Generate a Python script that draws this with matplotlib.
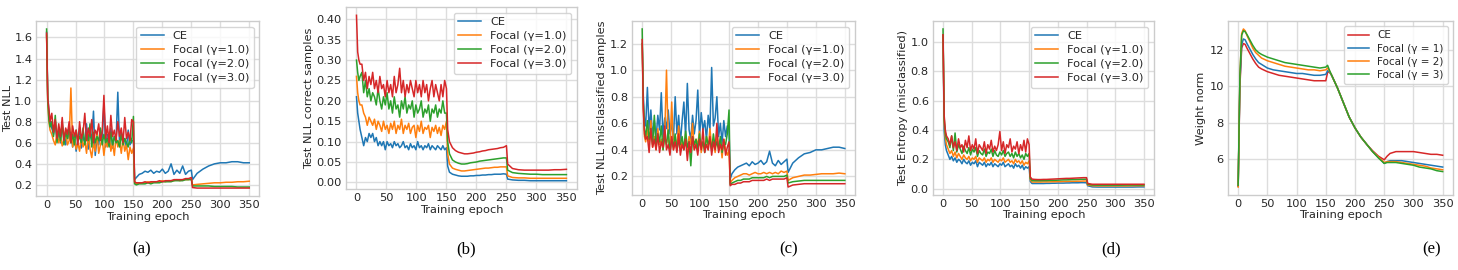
import matplotlib.pyplot as plt
from matplotlib.ticker import FormatStrFormatter

# epochs sampled for panels (a)-(d)
epochs = [0, 2, 4, 6] + list(range(9, 150, 3)) + [150, 152] + list(range(155, 250, 5)) + [250, 252] + list(range(260, 351, 10))
# epochs sampled for panel (e)
epochs_e = [0, 3, 6, 9, 12, 15, 20, 25, 30, 35, 40, 50, 60, 70, 80, 90, 100, 110, 120, 130,
            140, 150, 153, 156, 160, 170, 180, 190, 200, 210, 220, 230, 240, 250, 255, 260,
            270, 280, 290, 300, 310, 320, 330, 340, 350]

labels = ['CE', 'Focal (γ=1.0)', 'Focal (γ=2.0)', 'Focal (γ=3.0)']
labels_e = ['CE', 'Focal (γ = 1)', 'Focal (γ = 2)', 'Focal (γ = 3)']

# (a) Test NLL
nll_ce = ([1.65, 1.05, 0.90, 0.82]
          + [0.74, 0.68, 0.80, 0.62, 0.70, 0.60, 0.76, 0.66, 0.58, 0.72, 0.64, 0.70, 0.56, 0.68, 0.52, 0.62,
             0.74, 0.55, 0.66, 0.60, 0.78, 0.54, 0.70, 0.62, 0.90, 0.48, 0.64, 0.58, 0.72, 0.62, 0.97, 0.56,
             0.68, 0.60, 0.74, 0.55, 0.66, 0.62, 1.08, 0.58, 0.70, 0.60, 0.64, 0.55, 0.72, 0.58, 0.62]
          + [0.62, 0.25]
          + [0.27, 0.30, 0.31, 0.33, 0.32, 0.34, 0.31, 0.33, 0.32, 0.35, 0.31, 0.33, 0.40, 0.30, 0.34, 0.31,
             0.38, 0.30, 0.33]
          + [0.34, 0.25]
          + [0.31, 0.35, 0.38, 0.40, 0.41, 0.41, 0.42, 0.42, 0.41, 0.41])
nll_f1 = ([1.62, 1.00, 0.80, 0.72]
          + [0.68, 0.62, 0.58, 0.70, 0.60, 0.66, 0.57, 0.64, 0.72, 0.58, 0.62, 1.12, 0.56, 0.64, 0.54, 0.60,
             0.52, 0.66, 0.56, 0.62, 0.50, 0.68, 0.54, 0.46, 0.60, 0.52, 0.70, 0.50, 0.58, 0.64, 0.48, 0.62,
             0.56, 0.70, 0.52, 0.60, 0.48, 0.66, 0.56, 0.62, 0.50, 0.64, 0.52, 0.58, 0.44, 0.56, 0.50]
          + [0.55, 0.22]
          + [0.21, 0.22, 0.22, 0.22, 0.23, 0.22, 0.23, 0.23, 0.23, 0.24, 0.23, 0.24, 0.24, 0.24, 0.25, 0.24,
             0.25, 0.25, 0.25]
          + [0.26, 0.20]
          + [0.205, 0.21, 0.215, 0.22, 0.22, 0.225, 0.225, 0.23, 0.23, 0.235])
nll_f2 = ([1.68, 1.00, 0.82, 0.75]
          + [0.80, 0.66, 0.86, 0.60, 0.74, 0.62, 0.80, 0.58, 0.70, 0.64, 0.76, 0.60, 0.68, 0.58, 0.72, 0.62,
             0.66, 0.60, 0.74, 0.58, 0.68, 0.62, 0.78, 0.56, 0.70, 0.60, 0.66, 0.62, 0.74, 0.58, 0.68, 0.60,
             0.64, 0.56, 0.70, 0.58, 0.66, 0.60, 0.62, 0.56, 0.68, 0.58, 0.64, 0.60, 0.56, 0.66, 0.60]
          + [0.85, 0.21]
          + [0.20, 0.21, 0.21, 0.21, 0.22, 0.21, 0.22, 0.22, 0.22, 0.23, 0.23, 0.23, 0.23, 0.24, 0.24, 0.24,
             0.24, 0.25, 0.25]
          + [0.25, 0.19]
          + [0.19, 0.19, 0.19, 0.185, 0.185, 0.185, 0.185, 0.18, 0.18, 0.18])
nll_f3 = ([1.64, 1.02, 0.92, 0.80]
          + [0.88, 0.70, 0.82, 0.64, 0.78, 0.66, 0.84, 0.62, 0.74, 0.68, 0.80, 0.60, 0.76, 0.66, 0.72, 0.58,
             0.80, 0.64, 0.70, 0.88, 0.62, 0.74, 0.66, 0.82, 0.60, 0.72, 0.68, 0.78, 0.62, 0.70, 1.05, 0.64,
             0.76, 0.60, 0.86, 0.66, 0.72, 0.62, 0.80, 0.66, 0.74, 0.60, 0.84, 0.64, 0.70, 0.62, 0.82]
          + [0.80, 0.23]
          + [0.22, 0.22, 0.22, 0.23, 0.22, 0.23, 0.23, 0.23, 0.24, 0.23, 0.24, 0.24, 0.24, 0.25, 0.25, 0.25,
             0.25, 0.26, 0.26]
          + [0.27, 0.175]
          + [0.17, 0.17, 0.17, 0.17, 0.17, 0.17, 0.17, 0.17, 0.17, 0.17])

# (b) Test NLL correct samples
cor_ce = ([0.21, 0.17, 0.15, 0.13]
          + [0.11, 0.09, 0.11, 0.10, 0.12, 0.11, 0.12, 0.10, 0.11, 0.09, 0.10, 0.09, 0.10, 0.08, 0.10, 0.09,
             0.095, 0.085, 0.10, 0.09, 0.095, 0.085, 0.09, 0.10, 0.085, 0.09, 0.08, 0.095, 0.085, 0.09, 0.08,
             0.10, 0.085, 0.09, 0.08, 0.09, 0.085, 0.095, 0.08, 0.09, 0.085, 0.08, 0.09, 0.085, 0.08, 0.09, 0.08]
          + [0.085, 0.04]
          + [0.025, 0.02, 0.018, 0.016, 0.015, 0.015, 0.015, 0.016, 0.016, 0.017, 0.017, 0.018, 0.018, 0.019,
             0.019, 0.02, 0.02, 0.02, 0.021]
          + [0.02, 0.008]
          + [0.006, 0.005, 0.005, 0.004, 0.004, 0.004, 0.004, 0.004, 0.004, 0.004])
cor_f1 = ([0.26, 0.22, 0.20, 0.19]
          + [0.19, 0.17, 0.16, 0.14, 0.16, 0.15, 0.14, 0.155, 0.13, 0.15, 0.14, 0.125, 0.15, 0.13, 0.14, 0.12,
             0.145, 0.13, 0.15, 0.12, 0.14, 0.13, 0.155, 0.12, 0.14, 0.13, 0.145, 0.12, 0.135, 0.14, 0.11, 0.14,
             0.125, 0.15, 0.12, 0.135, 0.13, 0.14, 0.11, 0.135, 0.125, 0.14, 0.12, 0.135, 0.115, 0.14, 0.13]
          + [0.15, 0.07]
          + [0.045, 0.035, 0.032, 0.03, 0.028, 0.028, 0.029, 0.03, 0.031, 0.032, 0.033, 0.034, 0.035, 0.035,
             0.036, 0.037, 0.037, 0.038, 0.038]
          + [0.038, 0.016]
          + [0.012, 0.011, 0.011, 0.01, 0.01, 0.01, 0.01, 0.01, 0.01, 0.01])
cor_f2 = ([0.30, 0.27, 0.25, 0.26]
          + [0.27, 0.22, 0.25, 0.21, 0.23, 0.20, 0.22, 0.21, 0.19, 0.23, 0.20, 0.18, 0.21, 0.19, 0.22, 0.18,
             0.20, 0.17, 0.21, 0.18, 0.19, 0.16, 0.20, 0.18, 0.21, 0.17, 0.19, 0.18, 0.20, 0.16, 0.19, 0.17,
             0.18, 0.20, 0.16, 0.18, 0.17, 0.19, 0.15, 0.18, 0.17, 0.19, 0.16, 0.18, 0.17, 0.20, 0.17]
          + [0.17, 0.10]
          + [0.07, 0.055, 0.05, 0.047, 0.045, 0.045, 0.046, 0.048, 0.049, 0.05, 0.052, 0.053, 0.054, 0.055,
             0.056, 0.057, 0.058, 0.059, 0.06]
          + [0.06, 0.03]
          + [0.024, 0.022, 0.021, 0.02, 0.02, 0.019, 0.019, 0.019, 0.019, 0.019])
cor_f3 = ([0.41, 0.32, 0.30, 0.29]
          + [0.29, 0.25, 0.27, 0.23, 0.26, 0.24, 0.27, 0.23, 0.25, 0.22, 0.26, 0.23, 0.24, 0.21, 0.25, 0.22,
             0.24, 0.21, 0.26, 0.22, 0.24, 0.28, 0.22, 0.25, 0.21, 0.24, 0.22, 0.25, 0.23, 0.21, 0.25, 0.22,
             0.24, 0.21, 0.25, 0.22, 0.24, 0.20, 0.23, 0.25, 0.21, 0.24, 0.22, 0.20, 0.24, 0.21, 0.25]
          + [0.23, 0.13]
          + [0.10, 0.085, 0.078, 0.074, 0.072, 0.07, 0.07, 0.071, 0.072, 0.074, 0.075, 0.077, 0.078, 0.08,
             0.081, 0.082, 0.083, 0.085, 0.086]
          + [0.09, 0.045]
          + [0.034, 0.031, 0.03, 0.03, 0.03, 0.03, 0.03, 0.031, 0.031, 0.032])

# (c) Test NLL misclassified samples
mis_ce = ([1.20, 0.80, 0.62, 0.58]
          + [0.87, 0.55, 0.70, 0.50, 0.62, 0.48, 0.66, 0.55, 0.83, 0.50, 0.64, 0.56, 0.70, 0.52, 0.60, 0.48,
             0.80, 0.52, 0.66, 0.45, 0.62, 0.76, 0.50, 0.90, 0.55, 0.48, 0.66, 0.52, 0.62, 0.85, 0.50, 0.68,
             0.55, 0.62, 0.48, 0.66, 0.55, 1.02, 0.58, 0.64, 0.80, 0.50, 0.60, 0.45, 0.62, 0.50, 0.58]
          + [0.55, 0.18]
          + [0.22, 0.25, 0.27, 0.28, 0.29, 0.30, 0.28, 0.31, 0.29, 0.30, 0.32, 0.29, 0.31, 0.39, 0.30, 0.28,
             0.32, 0.29, 0.31]
          + [0.33, 0.23]
          + [0.30, 0.34, 0.37, 0.38, 0.40, 0.40, 0.41, 0.42, 0.42, 0.41])
mis_f1 = ([1.20, 0.72, 0.50, 0.46]
          + [0.55, 0.45, 0.62, 0.42, 0.50, 0.40, 0.56, 0.44, 0.48, 0.40, 0.52, 1.00, 0.46, 0.42, 0.76, 0.40,
             0.48, 0.44, 0.58, 0.40, 0.46, 0.42, 0.52, 0.38, 0.50, 0.44, 0.60, 0.40, 0.48, 0.44, 0.54, 0.38,
             0.46, 0.42, 0.50, 0.40, 0.56, 0.42, 0.46, 0.38, 0.50, 0.42, 0.46, 0.34, 0.48, 0.40, 0.36]
          + [0.40, 0.15]
          + [0.17, 0.19, 0.20, 0.21, 0.22, 0.22, 0.21, 0.22, 0.23, 0.22, 0.22, 0.23, 0.22, 0.23, 0.22, 0.23,
             0.22, 0.24, 0.23]
          + [0.24, 0.17]
          + [0.19, 0.20, 0.21, 0.21, 0.215, 0.22, 0.22, 0.22, 0.225, 0.22])
mis_f2 = ([1.31, 0.75, 0.55, 0.50]
          + [0.62, 0.48, 0.56, 0.44, 0.66, 0.42, 0.52, 0.46, 0.58, 0.40, 0.50, 0.44, 0.55, 0.38, 0.48, 0.42,
             0.52, 0.40, 0.46, 0.44, 0.50, 0.40, 0.54, 0.42, 0.46, 0.28, 0.50, 0.44, 0.48, 0.40, 0.52, 0.42,
             0.46, 0.38, 0.50, 0.44, 0.48, 0.40, 0.52, 0.42, 0.46, 0.40, 0.50, 0.38, 0.46, 0.44, 0.52]
          + [0.70, 0.14]
          + [0.15, 0.16, 0.17, 0.17, 0.18, 0.18, 0.18, 0.19, 0.19, 0.19, 0.19, 0.19, 0.20, 0.19, 0.20, 0.20,
             0.20, 0.20, 0.20]
          + [0.21, 0.15]
          + [0.16, 0.165, 0.17, 0.17, 0.17, 0.17, 0.17, 0.17, 0.17, 0.17])
mis_f3 = ([1.23, 0.70, 0.52, 0.48]
          + [0.50, 0.38, 0.56, 0.42, 0.48, 0.40, 0.52, 0.38, 0.46, 0.42, 0.58, 0.40, 0.44, 0.36, 0.50, 0.40,
             0.46, 0.38, 0.52, 0.36, 0.44, 0.40, 0.48, 0.32, 0.46, 0.38, 0.50, 0.40, 0.44, 0.36, 0.48, 0.40,
             0.56, 0.38, 0.44, 0.40, 0.50, 0.36, 0.46, 0.40, 0.60, 0.38, 0.44, 0.40, 0.48, 0.36, 0.42]
          + [0.46, 0.13]
          + [0.14, 0.14, 0.15, 0.15, 0.16, 0.16, 0.16, 0.17, 0.17, 0.17, 0.17, 0.17, 0.18, 0.17, 0.18, 0.18,
             0.18, 0.18, 0.18]
          + [0.19, 0.12]
          + [0.135, 0.14, 0.145, 0.145, 0.145, 0.145, 0.145, 0.145, 0.145, 0.145])

# (d) Test entropy (misclassified)
ent_ce = ([1.05, 0.40, 0.30, 0.26]
          + [0.23, 0.20, 0.22, 0.19, 0.21, 0.18, 0.20, 0.19, 0.17, 0.20, 0.18, 0.17, 0.19, 0.16, 0.18, 0.17,
             0.19, 0.15, 0.18, 0.17, 0.16, 0.18, 0.15, 0.17, 0.16, 0.18, 0.15, 0.17, 0.16, 0.15, 0.17, 0.16,
             0.18, 0.15, 0.16, 0.17, 0.15, 0.16, 0.14, 0.17, 0.15, 0.16, 0.14, 0.16, 0.13, 0.15, 0.14]
          + [0.15, 0.05]
          + [0.035, 0.035, 0.035, 0.035, 0.035, 0.036, 0.036, 0.037, 0.037, 0.038, 0.038, 0.038, 0.039, 0.039,
             0.04, 0.04, 0.04, 0.041, 0.041]
          + [0.04, 0.02]
          + [0.012, 0.011, 0.011, 0.011, 0.011, 0.011, 0.011, 0.011, 0.012, 0.012])
ent_f1 = ([1.05, 0.45, 0.35, 0.30]
          + [0.27, 0.24, 0.26, 0.22, 0.25, 0.21, 0.24, 0.22, 0.20, 0.23, 0.21, 0.20, 0.22, 0.19, 0.21, 0.20,
             0.22, 0.18, 0.21, 0.20, 0.19, 0.21, 0.18, 0.20, 0.19, 0.21, 0.18, 0.20, 0.19, 0.18, 0.20, 0.19,
             0.21, 0.18, 0.19, 0.20, 0.18, 0.19, 0.17, 0.20, 0.18, 0.19, 0.17, 0.19, 0.16, 0.18, 0.17]
          + [0.19, 0.06]
          + [0.045, 0.045, 0.045, 0.045, 0.046, 0.046, 0.046, 0.047, 0.047, 0.048, 0.048, 0.049, 0.049, 0.05,
             0.05, 0.05, 0.051, 0.051, 0.052]
          + [0.052, 0.025]
          + [0.02, 0.019, 0.019, 0.019, 0.019, 0.019, 0.019, 0.02, 0.02, 0.02])
ent_f2 = ([1.09, 0.48, 0.38, 0.34]
          + [0.32, 0.28, 0.36, 0.26, 0.38, 0.25, 0.30, 0.27, 0.24, 0.29, 0.26, 0.24, 0.28, 0.23, 0.27, 0.25,
             0.28, 0.22, 0.26, 0.24, 0.23, 0.27, 0.22, 0.25, 0.24, 0.27, 0.22, 0.26, 0.23, 0.22, 0.25, 0.23,
             0.26, 0.22, 0.24, 0.25, 0.22, 0.24, 0.21, 0.25, 0.22, 0.24, 0.21, 0.23, 0.20, 0.24, 0.22]
          + [0.24, 0.07]
          + [0.055, 0.054, 0.054, 0.054, 0.055, 0.055, 0.056, 0.057, 0.057, 0.058, 0.059, 0.06, 0.06, 0.061,
             0.062, 0.062, 0.063, 0.064, 0.064]
          + [0.065, 0.03]
          + [0.025, 0.024, 0.024, 0.024, 0.024, 0.024, 0.025, 0.025, 0.025, 0.025])
ent_f3 = ([1.05, 0.50, 0.40, 0.36]
          + [0.34, 0.30, 0.36, 0.28, 0.32, 0.26, 0.34, 0.28, 0.30, 0.25, 0.33, 0.28, 0.36, 0.26, 0.30, 0.27,
             0.34, 0.24, 0.30, 0.28, 0.26, 0.32, 0.24, 0.30, 0.27, 0.33, 0.25, 0.29, 0.26, 0.30, 0.39, 0.26,
             0.32, 0.24, 0.30, 0.28, 0.34, 0.25, 0.29, 0.27, 0.32, 0.24, 0.30, 0.26, 0.33, 0.25, 0.34]
          + [0.30, 0.08]
          + [0.065, 0.063, 0.062, 0.062, 0.063, 0.063, 0.064, 0.065, 0.066, 0.067, 0.068, 0.069, 0.07, 0.07,
             0.071, 0.072, 0.073, 0.074, 0.075]
          + [0.075, 0.035]
          + [0.03, 0.03, 0.03, 0.03, 0.03, 0.03, 0.03, 0.03, 0.03, 0.03])

# (e) Weight norm
wn_ce = [4.5, 10.0, 12.1, 12.35, 12.3, 12.1, 11.8, 11.5, 11.25, 11.05,
         10.95, 10.8, 10.7, 10.6, 10.55, 10.5, 10.45, 10.4, 10.35, 10.3,
         10.3, 10.3, 10.75, 10.8, 10.6, 9.9, 9.1, 8.3, 7.7, 7.2,
         6.8, 6.45, 6.15, 5.95, 6.15, 6.3, 6.4, 6.4, 6.4, 6.4,
         6.35, 6.3, 6.25, 6.25, 6.2]
wn_f1 = [4.5, 10.2, 12.3, 12.6, 12.55, 12.35, 12.05, 11.75, 11.5, 11.3,
         11.2, 11.0, 10.9, 10.85, 10.8, 10.75, 10.7, 10.7, 10.65, 10.6,
         10.6, 10.65, 10.85, 10.8, 10.6, 9.9, 9.1, 8.3, 7.7, 7.2,
         6.8, 6.4, 6.1, 5.75, 5.85, 5.9, 5.9, 5.9, 5.85, 5.8,
         5.75, 5.7, 5.65, 5.6, 5.55]
wn_f2 = [4.45, 10.5, 12.9, 13.15, 13.05, 12.8, 12.45, 12.1, 11.85, 11.7,
         11.55, 11.4, 11.3, 11.2, 11.1, 11.05, 11.0, 10.95, 10.9, 10.9,
         10.85, 10.9, 11.0, 10.85, 10.6, 9.9, 9.1, 8.3, 7.7, 7.2,
         6.8, 6.4, 6.1, 5.8, 5.85, 5.85, 5.85, 5.8, 5.75, 5.7,
         5.65, 5.6, 5.5, 5.45, 5.4]
wn_f3 = [4.55, 10.6, 12.8, 13.05, 13.0, 12.85, 12.55, 12.25, 12.0, 11.85,
         11.75, 11.6, 11.5, 11.4, 11.3, 11.25, 11.2, 11.15, 11.1, 11.05,
         11.0, 11.05, 11.15, 10.9, 10.6, 9.9, 9.1, 8.3, 7.7, 7.2,
         6.8, 6.4, 6.05, 5.75, 5.8, 5.8, 5.8, 5.75, 5.7, 5.65,
         5.55, 5.5, 5.45, 5.35, 5.3]

# seaborn-whitegrid look
plt.rcParams['font.family'] = 'DejaVu Sans'
plt.rcParams['axes.edgecolor'] = '#cccccc'
plt.rcParams['axes.linewidth'] = 1.0
plt.rcParams['grid.color'] = '#dddddd'
plt.rcParams['grid.linewidth'] = 1.0
plt.rcParams['text.color'] = '#262626'
plt.rcParams['axes.labelcolor'] = '#262626'
plt.rcParams['xtick.color'] = '#262626'
plt.rcParams['ytick.color'] = '#262626'
plt.rcParams['xtick.major.size'] = 0
plt.rcParams['ytick.major.size'] = 0
plt.rcParams['xtick.major.pad'] = 3
plt.rcParams['ytick.major.pad'] = 3
plt.rcParams['font.size'] = 8.2

C = ['#1f77b4', '#ff7f0e', '#2ca02c', '#d62728']

fig = plt.figure(figsize=(14.58, 2.70), dpi=100)

rects = [[0.0250, 0.274, 0.1529, 0.648],
         [0.2373, 0.300, 0.1584, 0.674],
         [0.4335, 0.278, 0.1529, 0.644],
         [0.6399, 0.278, 0.1516, 0.644],
         [0.8422, 0.278, 0.1543, 0.644]]

panels = [
    ('Test NLL', [nll_ce, nll_f1, nll_f2, nll_f3], [0.2, 0.4, 0.6, 0.8, 1.0, 1.2, 1.4, 1.6], '%.1f'),
    ('Test NLL correct samples', [cor_ce, cor_f1, cor_f2, cor_f3],
     [0.0, 0.05, 0.10, 0.15, 0.20, 0.25, 0.30, 0.35, 0.40], '%.2f'),
    ('Test NLL misclassified samples', [mis_ce, mis_f1, mis_f2, mis_f3], [0.2, 0.4, 0.6, 0.8, 1.0, 1.2], '%.1f'),
    ('Test Entropy (misclassified)', [ent_ce, ent_f1, ent_f2, ent_f3], [0.0, 0.2, 0.4, 0.6, 0.8, 1.0], '%.1f'),
]

for i, (ylab, series, yt, fmt) in enumerate(panels):
    ax = fig.add_axes(rects[i])
    for ys, lab, col in zip(series, labels, C):
        ax.plot(epochs, ys, color=col, lw=1.1, label=lab)
    ax.set_ylabel(ylab, labelpad=1 if i == 0 else 2)
    ax.set_xlabel('Training epoch', labelpad=1)
    ax.set_xticks(range(0, 351, 50))
    ax.set_yticks(yt)
    ax.yaxis.set_major_formatter(FormatStrFormatter(fmt))
    ax.grid(True)
    ax.legend(loc='upper right', fontsize=8.2, framealpha=0.8, edgecolor='#cccccc', labelspacing=0.35)

# weight norm panel uses a different colour order
ax = fig.add_axes(rects[4])
for ys, lab, col in zip([wn_ce, wn_f1, wn_f2, wn_f3], labels_e, [C[3], C[0], C[1], C[2]]):
    ax.plot(epochs_e, ys, color=col, lw=1.1, label=lab)
ax.set_ylabel('Weight norm', labelpad=2)
ax.set_xlabel('Training epoch', labelpad=1)
ax.set_xticks(range(0, 351, 50))
ax.set_yticks([6, 8, 10, 12])
ax.grid(True)
ax.legend(loc='upper right', fontsize=7.5, framealpha=0.8, edgecolor='#cccccc', labelspacing=0.3)

for x, t in zip([142, 466, 789, 1111, 1432], ['(a)', '(b)', '(c)', '(d)', '(e)']):
    fig.text(x / 1458, 1 - 249 / 270, t, ha='center', va='center',
             family='Liberation Serif', fontsize=12, color='black')

fig.savefig('out.png', dpi=100)
